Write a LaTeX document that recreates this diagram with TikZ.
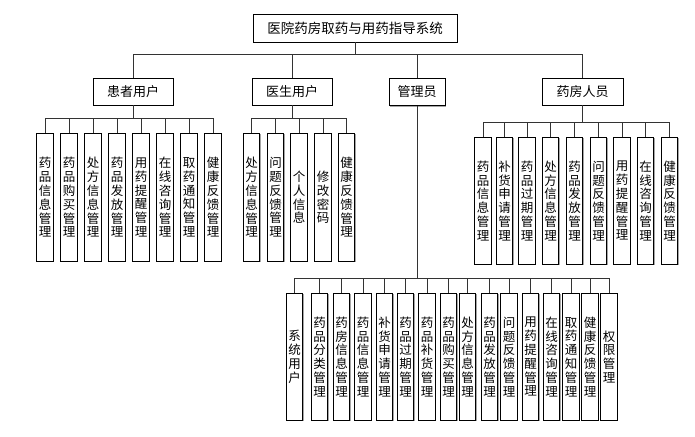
\documentclass[tikz,border=0pt]{standalone}
\usepackage{fontspec}
\setmainfont{Noto Sans CJK SC}
\usetikzlibrary{shadows}
\tikzset{
  box/.style={draw=black, line width=0.8pt, fill=white, rectangle, inner sep=0pt,
    drop shadow={shadow xshift=1pt, shadow yshift=-1pt, fill=gray!70, opacity=1}},
  rootbox/.style={box, minimum width=204pt, minimum height=28pt, font=\fontsize{13.5}{14}\selectfont},
  topbox/.style={box, minimum height=27pt, font=\fontsize{13}{14}\selectfont},
  leaf/.style={box, anchor=north, minimum width=16.5pt, minimum height=#1, align=center,
    font=\fontsize{12.5}{13.8}\selectfont},
  conn/.style={draw=black!80, line width=0.8pt}
}
\begin{document}
\begin{tikzpicture}[x=1pt,y=-1pt]
\useasboundingbox (0,0) rectangle (695,436);
% root
\node[rootbox] (root) at (355,28) {医院药房取药与用药指导系统};
% level 1
\node[topbox, minimum width=80pt] (pat) at (133,91.5) {患者用户};
\node[topbox, minimum width=80pt] (doc) at (292,91.5) {医生用户};
\node[topbox, minimum width=56pt] (adm) at (417,92) {管理员};
\node[topbox, minimum width=81pt] (pha) at (582.5,91.5) {药房人员};
\coordinate (rb) at (0,54);
\foreach \n in {pat,doc,adm,pha}
  \draw[conn] (root.south) -- (root.south|-rb) -| (\n.north);
% patient leaves
\coordinate (pb) at (0,118);
\foreach \x/\t [count=\i] in {45/药\\品\\信\\息\\管\\理, 69/药\\品\\购\\买\\管\\理, 93/处\\方\\信\\息\\管\\理,
  117/药\\品\\发\\放\\管\\理, 141/用\\药\\提\\醒\\管\\理, 165/在\\线\\咨\\询\\管\\理,
  189/取\\药\\通\\知\\管\\理, 213/健\\康\\反\\馈\\管\\理} {
  \node[leaf=128pt] (p\i) at (\x,133) {\t};
  \draw[conn] (pat.south) -- (pat.south|-pb) -| (p\i.north);
}
% doctor leaves
\foreach \x/\t [count=\i] in {251.5/处\\方\\信\\息\\管\\理, 275.5/问\\题\\反\\馈\\管\\理, 299/个\\人\\信\\息,
  323/修\\改\\密\\码, 346.5/健\\康\\反\\馈\\管\\理} {
  \node[leaf=128pt] (d\i) at (\x,133) {\t};
  \draw[conn] (doc.south) -- (doc.south|-pb) -| (d\i.north);
}
% pharmacy leaves
\coordinate (hb) at (0,122);
\foreach \x/\t [count=\i] in {483/药\\品\\信\\息\\管\\理, 504.5/补\\货\\申\\请\\管\\理, 527/药\\品\\过\\期\\管\\理,
  550.5/处\\方\\信\\息\\管\\理, 574.5/药\\品\\发\\放\\管\\理, 598.5/问\\题\\反\\馈\\管\\理,
  622/用\\药\\提\\醒\\管\\理, 645.5/在\\线\\咨\\询\\管\\理, 669.5/健\\康\\反\\馈\\管\\理} {
  \node[leaf=127pt] (h\i) at (\x,137) {\t};
  \draw[conn] (pha.south) -- (pha.south|-hb) -| (h\i.north);
}
% admin leaves
\coordinate (ab) at (0,278);
\foreach \x/\t [count=\i] in {294.5/系\\统\\用\\户, 319.5/药\\品\\分\\类\\管\\理, 341.5/药\\房\\信\\息\\管\\理,
  363/药\\品\\信\\息\\管\\理, 384.5/补\\货\\申\\请\\管\\理, 405.5/药\\品\\过\\期\\管\\理,
  427/药\\品\\补\\货\\管\\理, 448.5/药\\品\\购\\买\\管\\理, 467.5/处\\方\\信\\息\\管\\理,
  489.5/药\\品\\发\\放\\管\\理, 509/问\\题\\反\\馈\\管\\理, 530.5/用\\药\\提\\醒\\管\\理,
  551.5/在\\线\\咨\\询\\管\\理, 571/取\\药\\通\\知\\管\\理, 590/健\\康\\反\\馈\\管\\理,
  609/权\\限\\管\\理} {
  \node[leaf=127pt] (a\i) at (\x,293) {\t};
  \draw[conn] (adm.south) -- (adm.south|-ab) -| (a\i.north);
}
\end{tikzpicture}
\end{document}
